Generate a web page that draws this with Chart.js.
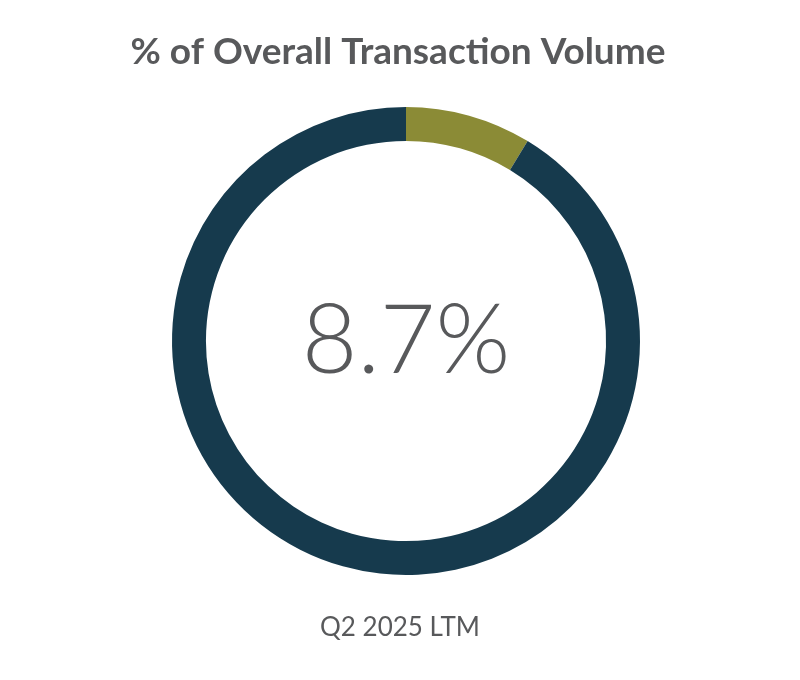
<!DOCTYPE html>
<html><head><meta charset="utf-8">
<script src="https://cdn.jsdelivr.net/npm/chart.js@4"></script>
<style>html,body{margin:0;padding:0;background:#fff}#w{width:800px;height:680px;position:relative}</style>
</head><body><div id="w"><canvas id="c"></canvas></div>
<script>
const labels = ["Segment", "Other"];
const values = [8.7, 91.3];
const colors = ["#8b8b36", "#163a4d"];
const titleText = "% of Overall Transaction Volume";
const centerText = "8.7%";
const bottomText = "Q2 2025 LTM";

const textPlugin = {
  id: 'texts',
  afterDraw(chart) {
    const ctx = chart.ctx;
    const m = chart.getDatasetMeta(0).data[0];
    ctx.save();
    ctx.textAlign = 'center'; ctx.textBaseline = 'middle';
    ctx.fillStyle = '#58595b';
    ctx.font = 'bold 37px Lato, "Open Sans", sans-serif';
    ctx.fillText(titleText, 398, 52);
    ctx.font = '300 96px Lato, "Open Sans", sans-serif';
    ctx.fillText(centerText, m.x, m.y + 1);
    ctx.font = '26px Lato, "Open Sans", sans-serif';
    ctx.fillText(bottomText, 400, 628);
    ctx.restore();
  }
};

new Chart(document.getElementById('c'), {
  type: 'doughnut',
  data: { labels, datasets: [{ data: values, backgroundColor: colors, borderWidth: 0 }] },
  options: {
    responsive: true, maintainAspectRatio: false, animation: false,
    cutout: '85.5%',
    layout: { padding: { top: 107, bottom: 105, left: 172, right: 160 } },
    plugins: { legend: { display: false }, tooltip: { enabled: false } }
  },
  plugins: [textPlugin]
});
</script></body></html>
